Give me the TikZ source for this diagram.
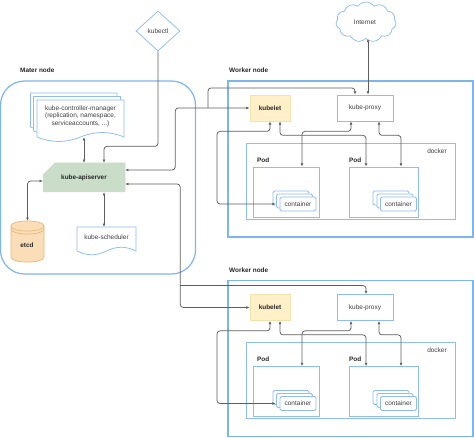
\documentclass[tikz,border=0pt]{standalone}
\usepackage{fontspec}
\setmainfont{Liberation Sans}
\usetikzlibrary{arrows.meta,shapes.geometric,shapes.misc,shapes.symbols,calc}
\definecolor{outerblue}{HTML}{7DB6EC}
\definecolor{innerblue}{HTML}{8FBDF0}
\definecolor{linkgray}{HTML}{5E5E5E}
\definecolor{kubeletfill}{HTML}{FFF0C8}
\definecolor{kubeletline}{HTML}{F2E2AE}
\definecolor{apifill}{HTML}{C9DDC9}
\definecolor{etcdfill}{HTML}{FBDDB8}
\definecolor{etcdline}{HTML}{E8B878}
\tikzset{
  txt/.style={font=\fontsize{6.5}{7.6}\selectfont,text=black!75,align=center,inner sep=0pt},
  head/.style={font=\fontsize{6.4}{7.6}\selectfont\bfseries,text=black!85,inner sep=0pt},
  outerbox/.style={draw=outerblue,line width=1.2pt},
  innerbox/.style={draw=innerblue,line width=.75pt,fill=white},
  ctr/.style={innerbox,rounded corners=1.5pt,rectangle,minimum width=36,minimum height=14,inner sep=0pt},
  link/.style={draw=linkgray,line width=.75pt,rounded corners=3pt,-{Latex[length=3.2pt,width=2.8pt]}},
  bilink/.style={draw=linkgray,line width=.75pt,rounded corners=3pt,{Latex[length=3.2pt,width=2.8pt]}-{Latex[length=3.2pt,width=2.8pt]}},
}
% wavy document outline: x1,ytop,x2,ybase,amplitude
\newcommand{\docoutline}[5]{%
  \pgfmathsetmacro{\dw}{#3-#1}%
  \draw[innerbox] (#1,#2) -- (#3,#2) -- (#3,#4)
    .. controls ({#1+.83*\dw},{#4-#5}) and ({#1+.67*\dw},{#4-#5}) .. ({#1+.5*\dw},#4)
    .. controls ({#1+.33*\dw},{#4+#5}) and ({#1+.17*\dw},{#4+#5}) .. (#1,#4) -- cycle;}
% one worker node: prefix, vertical shift
\newcommand{\workerbox}[2]{%
\begin{scope}[shift={(0,#2)}]
  \node[head,anchor=west] (#1title) at (229,70.5) {Worker node};
  \node[outerbox,rectangle,minimum width=245,minimum height=156,inner sep=0pt] (#1outer) at (350.5,159) {};
  \node[innerbox,rectangle,minimum width=209,minimum height=76,inner sep=0pt] (#1docker) at (350.5,181) {};
  \node[txt] (#1dockerlabel) at (437,151) {docker};
  \node[draw=kubeletline,line width=.75pt,fill=kubeletfill,rectangle,minimum width=40,minimum height=26,inner sep=0pt,head] (#1kubelet) at (270,108) {kubelet};
  \node[innerbox,rectangle,minimum width=56,minimum height=26,inner sep=0pt,txt] (#1proxy) at (365,108) {kube-proxy};
  \node[head,anchor=west] (#1podla) at (257,160) {Pod};
  \node[head,anchor=west] (#1podlb) at (349,160) {Pod};
  \node[innerbox,rectangle,minimum width=66,minimum height=50,inner sep=0pt] (#1poda) at (286,192) {};
  \node[innerbox,rectangle,minimum width=69,minimum height=50,inner sep=0pt] (#1podb) at (383.5,192) {};
  \node[ctr] (#1caback) at (291,198) {};
  \node[ctr] (#1camid) at (294.5,201) {};
  \node[ctr,txt] (#1cafront) at (298,204) {container};
  \node[ctr] (#1cbback) at (391,198) {};
  \node[ctr] (#1cbmid) at (395,201) {};
  \node[ctr,txt] (#1cbfront) at (398.5,204) {container};
  \draw[bilink] (#1kubelet.south) -- ++(0,10) -- ++(-53,0) |- ([xshift=-4pt]#1cafront.west);
  \draw[bilink] ([xshift=10pt]#1kubelet.south) -- ++(0,14) -| ([xshift=-17.5pt]#1podb.north);
  \draw[bilink] ([xshift=-14pt]#1proxy.south) -- ++(0,10) -| ([xshift=16pt]#1poda.north);
  \draw[bilink] ([xshift=14pt]#1proxy.south) -- ++(0,14) -| ([xshift=17.5pt]#1podb.north);
\end{scope}}
\begin{document}
\begin{tikzpicture}[x=1pt,y=-1pt]
\useasboundingbox[fill=white] (0,0) rectangle (474,438);
% master
\node[head,anchor=west] (mastertitle) at (20,70.5) {Mater node};
\node[outerbox,rectangle,rounded corners=24pt,minimum width=195,minimum height=193,inner sep=0pt] (master) at (98,177.5) {};
\node[draw=innerblue,line width=.75pt,fill=white,diamond,minimum width=44,minimum height=40,inner sep=0pt] (kubectl) at (158,31) {};
\node[txt] (kubectllabel) at (158,31) {kubectl};
\docoutline{30.5}{93}{117}{127}{6}
\docoutline{33.5}{96.5}{120.5}{131}{6}
\docoutline{37}{100}{124}{137}{6}
\node[txt,minimum width=87,minimum height=42] (manager) at (80.5,116) {kube-controller-manager\\(replication, namespace,\\serviceaccounts, ...)};
\node[chamfered rectangle,chamfered rectangle corners=north west,chamfered rectangle sep=9pt,fill=apifill,draw=apifill,line width=.5pt,minimum width=82,minimum height=29,inner sep=0pt,head] (api) at (84,177.5) {kube-apiserver};
% etcd
\draw[draw=etcdline,line width=.7pt,fill=etcdfill]
  (11,226) -- (11,257)
  .. controls (11,260) and (17,262) .. (27.5,262) .. controls (38,262) and (44,260) .. (44,257)
  -- (44,226) -- cycle;
\draw[draw=etcdline,line width=.7pt,fill=etcdfill]
  (11,226) .. controls (11,223) and (18,221) .. (27.5,221) .. controls (37,221) and (44,223) .. (44,226)
  .. controls (44,229) and (37,231) .. (27.5,231) .. controls (18,231) and (11,229) .. (11,226) -- cycle;
\draw[draw=etcdline,line width=.7pt] (11,229) .. controls (11,232) and (18,234) .. (27.5,234) .. controls (37,234) and (44,232) .. (44,229);
\node[rectangle,minimum width=33,minimum height=41,inner sep=0pt] (etcd) at (27.5,241.5) {};
\node[head] (etcdlabel) at (27,245) {etcd};
% scheduler
\docoutline{77}{227}{136}{251}{5}
\node[txt,minimum width=59,minimum height=20] (scheduler) at (106.5,237) {kube-scheduler};
% workers
\workerbox{wa}{0}
\workerbox{wb}{199.5}
% internet
\node[cloud,cloud puffs=11,cloud puff arc=110,aspect=1.6,draw=innerblue,line width=.75pt,fill=white,minimum width=60,minimum height=40,inner sep=0pt] (internet) at (366,22) {};
\node[txt] (internetlabel) at (365,22) {Internet};
% master connectors
\draw[bilink] ([xshift=3.5pt]manager.south) -- (api.north);
\draw[bilink] (etcd.north) |- ([yshift=-3.5pt]api.west);
\draw[bilink] ([xshift=20pt]api.south) -- ([xshift=-2.5pt]scheduler.north);
\draw[link] (kubectl.south) -- ++(0,95) -| ([xshift=20pt]api.north);
\draw[bilink] ([yshift=7.5pt]api.east) -- ++(50,0) |- (wakubelet.west);
\coordinate (branchA) at (208,108);
\draw[link] (branchA) -- ++(0,-20) -| ([xshift=-10pt]waproxy.north);
\draw[bilink] ([yshift=-6.5pt]api.east) -- ++(55,0) |- (wbkubelet.west);
\coordinate (branchB) at (180,285.5);
\draw[link] (branchB) -| ([xshift=1pt]wbproxy.north);
\draw[bilink] ([xshift=3pt]waproxy.north |- internet.south) -- ([xshift=3pt]waproxy.north);
\end{tikzpicture}
\end{document}
